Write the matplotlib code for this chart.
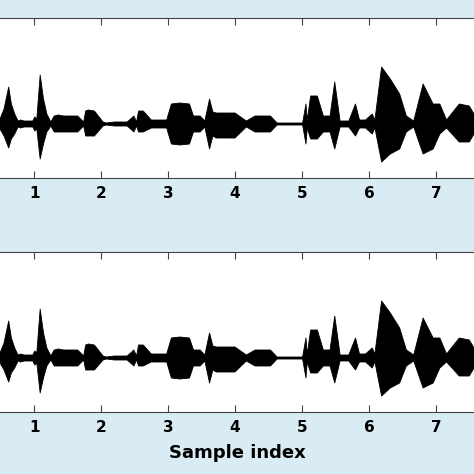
import matplotlib
matplotlib.use("Agg")
import matplotlib.pyplot as plt

# envelope positions (sample index, x1e4) and upper/lower amplitudes
xs = [0.49,0.55,0.62,0.66,0.71,0.76,0.80,0.85,0.98,1.01,1.04,1.09,1.14,1.19,1.25,1.30,1.36,1.44,1.55,1.65,1.74,1.77,1.81,1.90,2.03,2.08,2.20,2.39,2.49,2.53,2.56,2.63,2.75,2.78,2.98,3.05,3.18,3.32,3.38,3.48,3.55,3.62,3.67,3.72,3.80,4.00,4.17,4.30,4.42,4.53,4.63,5.01,5.06,5.08,5.13,5.23,5.32,5.42,5.49,5.57,5.70,5.80,5.86,5.95,6.05,6.09,6.19,6.32,6.46,6.56,6.67,6.81,6.96,7.06,7.16,7.35,7.50,7.57]
upper = [5,15,37,20,10,3,4,3,3,7,5,49,25,10,2,8,9,8,8,8,2,13,14,13,2,1,2,2,8,2,13,13,4,4,4,20,21,20,8,8,3,25,12,11,11,11,3,8,8,8,1,1,20,4,28,28,8,8,42,3,3,20,4,4,10,4,57,45,30,8,3,40,20,20,4,20,18,10]
lower = [5,12,24,15,10,3,4,3,3,7,5,35,20,8,2,8,8,8,8,8,2,12,12,12,2,1,2,2,8,2,8,8,4,4,4,20,21,20,8,8,3,25,12,14,14,14,3,8,8,8,1,1,20,4,15,15,8,8,25,3,3,12,4,4,10,4,38,30,25,8,3,30,25,10,4,18,18,10]
ticks = [1,2,3,4,5,6,7]
bg = "#d9ecf3"

fig = plt.figure(figsize=(4.74,4.74), dpi=100, facecolor=bg)
for bottom, xlabel in [(1-178/474, None), (1-412/474, "Sample index")]:
    ax = fig.add_axes([0, bottom, 1, 160/474])
    ax.set_facecolor("white")
    ax.fill_between(xs, [-v for v in lower], upper, color="black", lw=0.6)
    ax.axhline(0, color="black", lw=0.8)
    ax.set_xlim(0.49, 7.57)
    ax.set_ylim(-54, 106)
    for s in ["left","right"]:
        ax.spines[s].set_visible(False)
    for s in ["top","bottom"]:
        ax.spines[s].set_color("#444444")
    ax.set_yticks([])
    ax.set_xticks(ticks)
    ax.set_xticklabels([str(t) for t in ticks], fontweight="bold", fontsize=11)
    ax.tick_params(axis="x", direction="in", top=True, length=5, color="#444444", pad=6)
    if xlabel:
        ax.set_xlabel(xlabel, fontweight="bold", fontsize=13, labelpad=6)
fig.savefig("out.png", dpi=100, facecolor=bg)
